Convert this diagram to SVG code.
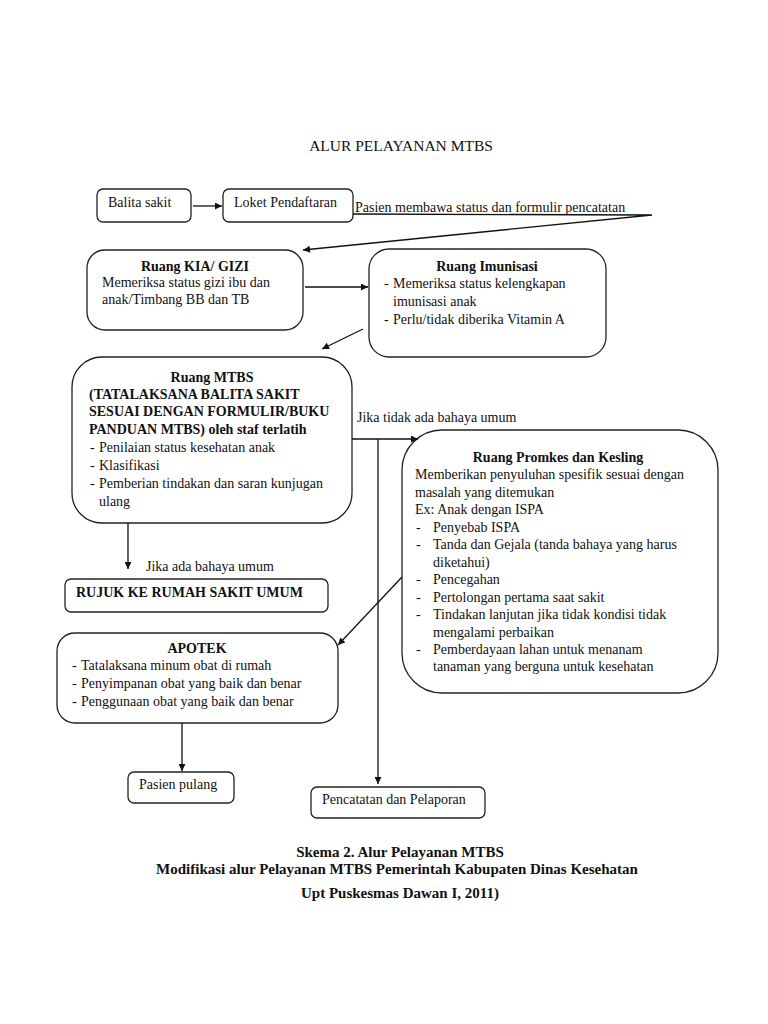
<svg xmlns="http://www.w3.org/2000/svg" width="768" height="1024" viewBox="0 0 768 1024">
<style>
  text { font-family: "Liberation Serif", "Times New Roman", serif; font-size: 14px; fill: #111; }
  .b { font-weight: bold; }
  .c { text-anchor: middle; }
  .box { fill: #fff; stroke: #222; stroke-width: 1.3; }
  .ln { fill: none; stroke: #111; stroke-width: 1.3; }
</style>
<defs>
  <marker id="ah" viewBox="0 0 10 10" refX="10" refY="5" markerWidth="8" markerHeight="7" markerUnits="userSpaceOnUse" orient="auto">
    <path d="M0,0 L10,5 L0,10 z" fill="#111"/>
  </marker>
</defs>
<rect width="768" height="1024" fill="#fff"/>

<text id="title" x="401" y="151" class="c" style="font-size:15.5px">ALUR PELAYANAN MTBS</text>

<g id="balita">
  <rect class="box" x="97" y="189" width="94" height="33" rx="6"/>
  <text x="108" y="207">Balita sakit</text>
</g>
<g id="loket">
  <rect class="box" x="223" y="189" width="130" height="33" rx="6"/>
  <text x="234" y="207">Loket Pendaftaran</text>
</g>

<g id="kia">
  <rect class="box" x="87" y="250" width="216" height="80" rx="18"/>
  <text x="195" y="271" class="c b">Ruang KIA/ GIZI</text>
  <text x="102" y="287">Memeriksa status gizi ibu dan</text>
  <text x="102" y="304">anak/Timbang BB dan TB</text>
</g>

<g id="imunisasi">
  <rect class="box" x="369" y="249" width="237" height="108" rx="20"/>
  <text x="487" y="271" class="c b">Ruang Imunisasi</text>
  <text x="384" y="288">-</text><text x="393" y="288">Memeriksa status kelengkapan</text>
  <text x="393" y="306">imunisasi anak</text>
  <text x="384" y="324">-</text><text x="393" y="324">Perlu/tidak diberika Vitamin A</text>
</g>

<g id="mtbs">
  <rect class="box" x="72" y="357" width="280" height="166" rx="30"/>
  <text x="212" y="382" class="c b">Ruang MTBS</text>
  <text x="89" y="399" class="b">(TATALAKSANA BALITA SAKIT</text>
  <text x="89" y="416" class="b">SESUAI DENGAN FORMULIR/BUKU</text>
  <text x="89" y="434" class="b">PANDUAN MTBS) oleh staf terlatih</text>
  <text x="90" y="452">-</text><text x="99" y="452">Penilaian status kesehatan anak</text>
  <text x="90" y="470">-</text><text x="99" y="470">Klasifikasi</text>
  <text x="90" y="488">-</text><text x="99" y="488">Pemberian tindakan dan saran kunjugan</text>
  <text x="99" y="506">ulang</text>
</g>

<g id="rujuk">
  <rect class="box" x="65" y="579" width="263" height="33" rx="6"/>
  <text x="76" y="597" class="b">RUJUK KE RUMAH SAKIT UMUM</text>
</g>

<g id="promkes">
  <rect class="box" x="402" y="430" width="316" height="263" rx="40"/>
  <text x="558" y="462" class="c b">Ruang Promkes dan Kesling</text>
  <text x="415" y="479">Memberikan penyuluhan spesifik sesuai dengan</text>
  <text x="415" y="497">masalah yang ditemukan</text>
  <text x="415" y="514">Ex: Anak dengan ISPA</text>
  <text x="416" y="532">-</text><text x="433" y="532">Penyebab ISPA</text>
  <text x="416" y="549">-</text><text x="433" y="549">Tanda dan Gejala (tanda bahaya yang harus</text>
  <text x="433" y="567">diketahui)</text>
  <text x="416" y="584">-</text><text x="433" y="584">Pencegahan</text>
  <text x="416" y="602">-</text><text x="433" y="602">Pertolongan pertama saat sakit</text>
  <text x="416" y="619">-</text><text x="433" y="619">Tindakan lanjutan jika tidak kondisi tidak</text>
  <text x="433" y="637">mengalami perbaikan</text>
  <text x="416" y="654">-</text><text x="433" y="654">Pemberdayaan lahan untuk menanam</text>
  <text x="433" y="671">tanaman yang berguna untuk kesehatan</text>
</g>

<g id="apotek">
  <rect class="box" x="57" y="633" width="281" height="90" rx="18"/>
  <text x="197" y="653" class="c b">APOTEK</text>
  <text x="72" y="670">-</text><text x="81" y="670">Tatalaksana minum obat di rumah</text>
  <text x="72" y="688">-</text><text x="81" y="688">Penyimpanan obat yang baik dan benar</text>
  <text x="72" y="706">-</text><text x="81" y="706">Penggunaan obat yang baik dan benar</text>
</g>

<g id="pulang">
  <rect class="box" x="128" y="772" width="106" height="31" rx="6"/>
  <text x="139" y="789">Pasien pulang</text>
</g>

<g id="pencatatan">
  <rect class="box" x="311" y="787" width="174" height="31" rx="6"/>
  <text x="322" y="804">Pencatatan dan Pelaporan</text>
</g>

<g id="connectors">
  <line class="ln" x1="193" y1="206" x2="222" y2="206" marker-end="url(#ah)"/>
  <polyline class="ln" points="353,214 652,215 303,250" marker-end="url(#ah)"/>
  <line class="ln" x1="305" y1="287" x2="368" y2="287" marker-end="url(#ah)"/>
  <line class="ln" x1="363" y1="329" x2="322" y2="349" marker-end="url(#ah)"/>
  <line class="ln" x1="352" y1="439" x2="418" y2="439" marker-end="url(#ah)"/>
  <line class="ln" x1="378" y1="439" x2="378" y2="784" marker-end="url(#ah)"/>
  <line class="ln" x1="128" y1="523" x2="128" y2="569" marker-end="url(#ah)"/>
  <line class="ln" x1="402" y1="577" x2="338" y2="645" marker-end="url(#ah)"/>
  <line class="ln" x1="182" y1="723" x2="182" y2="771" marker-end="url(#ah)"/>
  <text x="355" y="212">Pasien membawa status dan formulir pencatatan</text>
  <text x="357" y="422">Jika tidak ada bahaya umum</text>
  <text x="146" y="571">Jika ada bahaya umum</text>
</g>

<g id="caption">
  <text x="400" y="857" class="c b" style="font-size:15px">Skema 2. Alur Pelayanan MTBS</text>
  <text x="397" y="874" class="c b" style="font-size:15px">Modifikasi alur Pelayanan MTBS Pemerintah Kabupaten Dinas Kesehatan</text>
  <text x="400" y="898" class="c b" style="font-size:15px">Upt Puskesmas Dawan I, 2011)</text>
</g>
</svg>
